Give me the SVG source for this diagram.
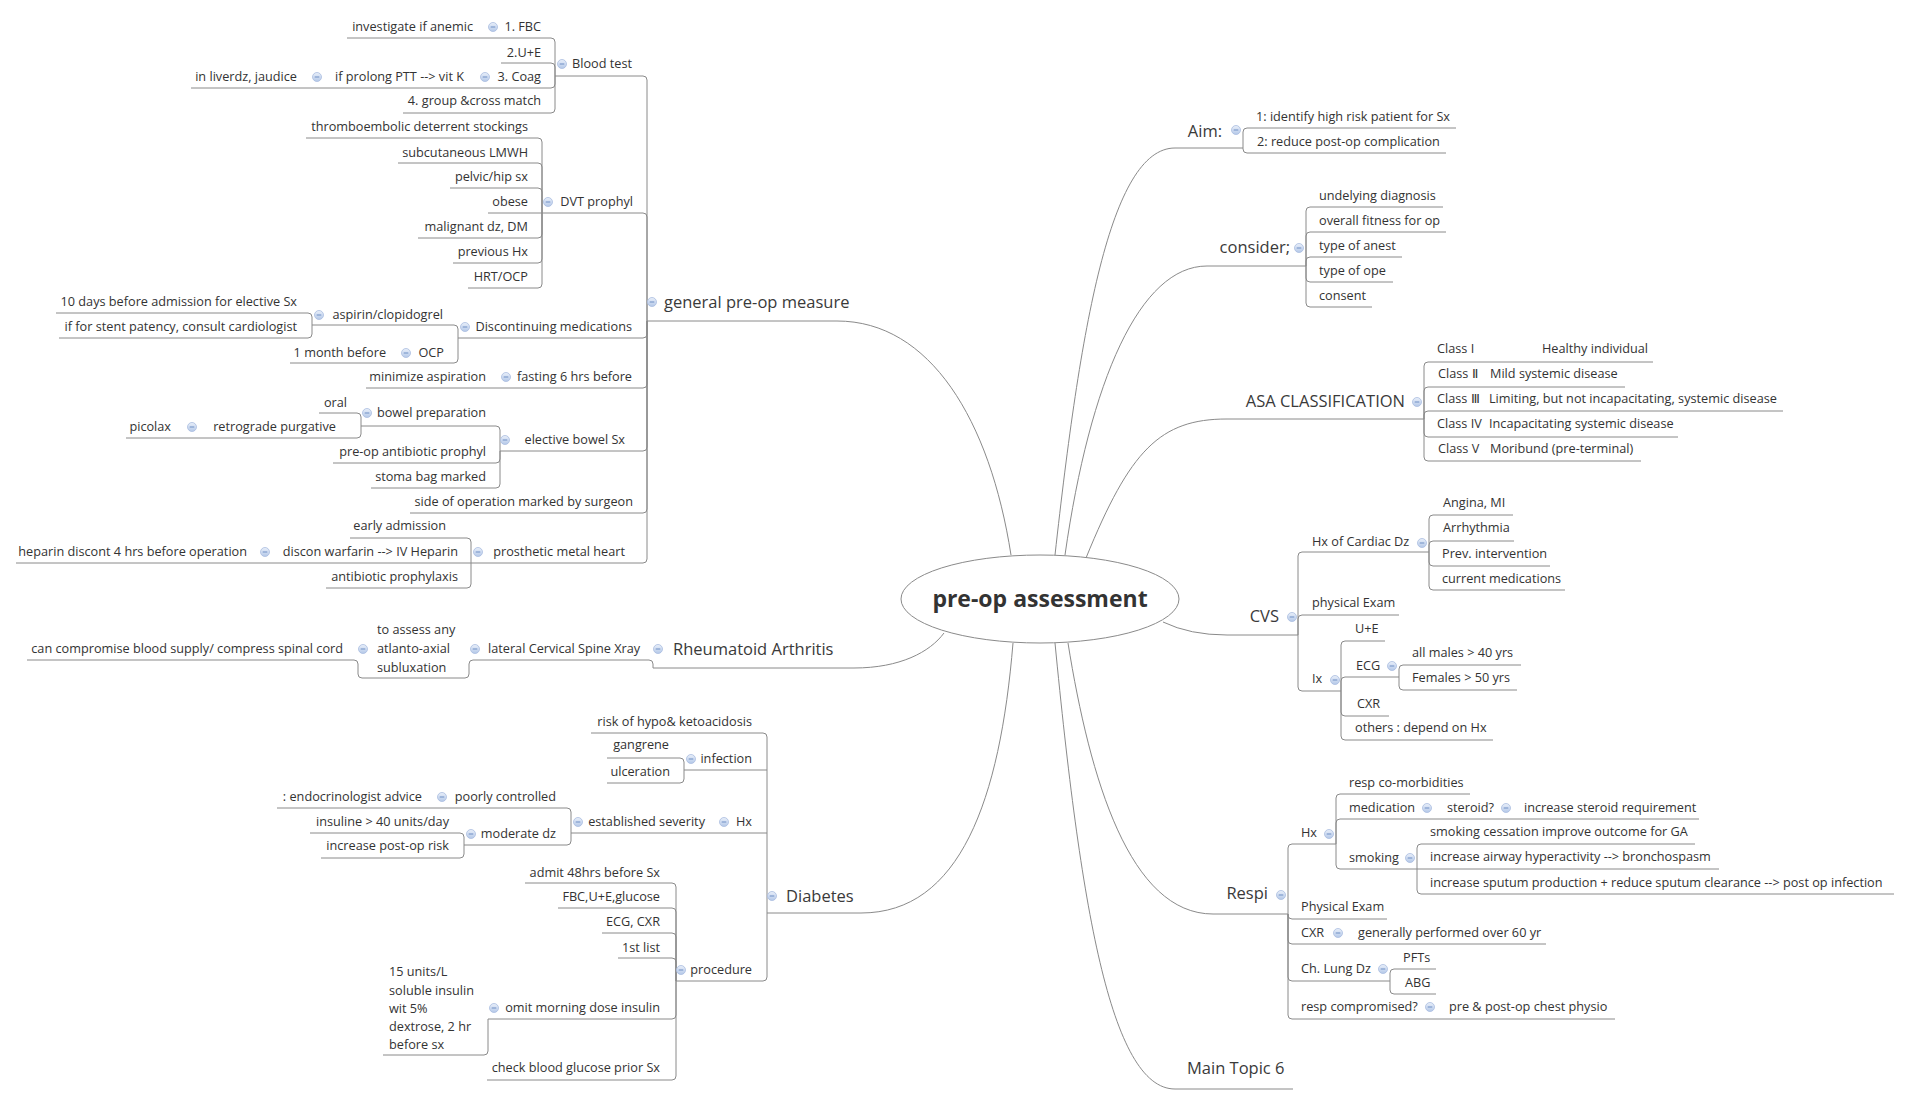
<svg xmlns="http://www.w3.org/2000/svg" xmlns:xlink="http://www.w3.org/1999/xlink" width="1910" height="1105" viewBox="0 0 1910 1105">
<style>
text{font-family:"Open Sans","Noto Sans","Liberation Sans",sans-serif;fill:#333}
.s{font-size:12.7px}
.e{text-anchor:end}
.m{font-size:16.5px;fill:#3a3a3a}
.c{font-size:23px;font-weight:bold;text-anchor:middle;fill:#333}
#conn path{fill:none;stroke:#8a8a8a;stroke-width:1}
</style>
<defs>
<linearGradient id="g" x1="0" y1="0" x2="0" y2="1"><stop offset="0" stop-color="#eaf0fa"/><stop offset="1" stop-color="#b4c8e8"/></linearGradient>
<g id="mi"><circle r="4.5" fill="url(#g)" stroke="#a9bde0" stroke-width="0.8"/><line x1="-2.3" y1="0" x2="2.3" y2="0" stroke="#6f8fc4" stroke-width="1"/></g>
</defs>
<rect width="1910" height="1105" fill="#fff"/>
<g id="conn">
<path d="M347,38 H551 Q555,38 555,42 V76"/>
<path d="M501,63 H551 Q555,63 555,67 V76"/>
<path d="M191,88 H551 Q555,88 555,84 V76"/>
<path d="M403,113 H551 Q555,113 555,109 V76"/>
<path d="M555,76 H643 Q647,76 647,80 V321"/>
<path d="M306,138 H538 Q542,138 542,142 V213"/>
<path d="M398,163 H538 Q542,163 542,167 V213"/>
<path d="M450,188 H538 Q542,188 542,192 V213"/>
<path d="M488,213 H542"/>
<path d="M418,238 H538 Q542,238 542,234 V213"/>
<path d="M453,263 H538 Q542,263 542,259 V213"/>
<path d="M468,288 H538 Q542,288 542,284 V213"/>
<path d="M542,213 H643 Q647,213 647,217 V321"/>
<path d="M56,313 H308 Q312,313 312,317 V325"/>
<path d="M59,338 H308 Q312,338 312,334 V325"/>
<path d="M312,325 H454 Q458,325 458,329 V338"/>
<path d="M290,363 H454 Q458,363 458,359 V338"/>
<path d="M458,338 H643 Q647,338 647,334 V321"/>
<path d="M366,388 H643 Q647,388 647,384 V321"/>
<path d="M319,413 H357 Q361,413 361,417 V426"/>
<path d="M126,438 H357 Q361,438 361,434 V426"/>
<path d="M361,426 H496 Q500,426 500,430 V451"/>
<path d="M333,463 H496 Q500,463 500,459 V451"/>
<path d="M371,488 H496 Q500,488 500,484 V451"/>
<path d="M500,451 H643 Q647,451 647,447 V321"/>
<path d="M410,513 H643 Q647,513 647,509 V321"/>
<path d="M350,538 H467 Q471,538 471,542 V563"/>
<path d="M16,563 H471"/>
<path d="M326,588 H467 Q471,588 471,584 V563"/>
<path d="M471,563 H643 Q647,563 647,559 V321"/>
<path d="M647,321 H837 C930,321 990,420 1011,555"/>
<path d="M27,660 H354 Q358,660 358,664 V674 Q358,678 362,678 H465 Q469,678 469,674 V664 Q469,660 473,660 H649 Q653,660 653,664 V668 H854 C900,668 930,652 944,633"/>
<path d="M607,758 H680 Q684,758 684,762 V770"/>
<path d="M607,783 H680 Q684,783 684,779 V770"/>
<path d="M591,733 H763 Q767,733 767,737 V913"/>
<path d="M684,770 H767"/>
<path d="M310,833 H460 Q464,833 464,837 V845"/>
<path d="M321,858 H460 Q464,858 464,854 V845"/>
<path d="M277,808 H567 Q571,808 571,812 V833"/>
<path d="M464,845 H567 Q571,845 571,841 V833"/>
<path d="M571,833 H767"/>
<path d="M525,883 H672 Q676,883 676,887 V981"/>
<path d="M558,908 H672 Q676,908 676,912 V981"/>
<path d="M602,933 H672 Q676,933 676,937 V981"/>
<path d="M618,958 H672 Q676,958 676,962 V981"/>
<path d="M488,1019 H672 Q676,1019 676,1015 V981"/>
<path d="M383,1055 H484 Q488,1055 488,1051 V1019"/>
<path d="M487,1080 H672 Q676,1080 676,1076 V981"/>
<path d="M676,981 H763 Q767,981 767,977 V913"/>
<path d="M767,913 H861 C960,913 1000,800 1013,643"/>
<path d="M1055,555 C1080,330 1110,148 1175,148 H1243"/>
<path d="M1456,128 H1247 Q1243,128 1243,132 V148"/>
<path d="M1446,153 H1247 Q1243,153 1243,149 V148"/>
<path d="M1065,555 C1090,380 1140,266 1207,266 H1306"/>
<path d="M1443,207 H1310 Q1306,207 1306,211 V266"/>
<path d="M1446,232 H1310 Q1306,232 1306,236 V266"/>
<path d="M1402,257 H1310 Q1306,257 1306,261 V266"/>
<path d="M1393,282 H1310 Q1306,282 1306,278 V266"/>
<path d="M1372,307 H1310 Q1306,307 1306,303 V266"/>
<path d="M1086,558 C1130,450 1160,419 1227,419 H1424"/>
<path d="M1653,362 H1428 Q1424,362 1424,366 V419"/>
<path d="M1625,387 H1428 Q1424,387 1424,391 V419"/>
<path d="M1783,411 H1428 Q1424,411 1424,415 V419"/>
<path d="M1678,437 H1428 Q1424,437 1424,433 V419"/>
<path d="M1641,461 H1428 Q1424,461 1424,457 V419"/>
<path d="M1163,622 Q1190,635 1227,635 H1298"/>
<path d="M1429,552 H1302 Q1298,552 1298,556 V635"/>
<path d="M1399,615 H1302 Q1298,615 1298,619 V635"/>
<path d="M1341,691 H1302 Q1298,691 1298,687 V635"/>
<path d="M1513,515 H1433 Q1429,515 1429,519 V552"/>
<path d="M1514,541 H1433 Q1429,541 1429,545 V552"/>
<path d="M1550,566 H1433 Q1429,566 1429,562 V552"/>
<path d="M1565,590 H1433 Q1429,590 1429,586 V552"/>
<path d="M1385,641 H1345 Q1341,641 1341,645 V691"/>
<path d="M1399,677 H1345 Q1341,677 1341,681 V691"/>
<path d="M1389,716 H1345 Q1341,716 1341,712 V691"/>
<path d="M1493,740 H1345 Q1341,740 1341,736 V691"/>
<path d="M1521,665 H1403 Q1399,665 1399,669 V677"/>
<path d="M1517,690 H1403 Q1399,690 1399,686 V677"/>
<path d="M1068,643 C1090,780 1130,914 1213,914 H1288"/>
<path d="M1336,844 H1292 Q1288,844 1288,848 V914"/>
<path d="M1387,919 H1292 Q1288,919 1288,915 V914"/>
<path d="M1546,944 H1292 Q1288,944 1288,940 V914"/>
<path d="M1390,981 H1292 Q1288,981 1288,977 V914"/>
<path d="M1615,1019 H1292 Q1288,1019 1288,1015 V914"/>
<path d="M1470,794 H1340 Q1336,794 1336,798 V844"/>
<path d="M1699,819 H1340 Q1336,819 1336,823 V844"/>
<path d="M1417,869 H1340 Q1336,869 1336,865 V844"/>
<path d="M1695,844 H1421 Q1417,844 1417,848 V869"/>
<path d="M1719,869 H1417"/>
<path d="M1894,894 H1421 Q1417,894 1417,890 V869"/>
<path d="M1436,969 H1394 Q1390,969 1390,973 V981"/>
<path d="M1436,994 H1394 Q1390,994 1390,990 V981"/>
<path d="M1055,643 C1080,900 1110,1089 1175,1089 H1293"/>
</g>

<g id="center"><ellipse cx="1040" cy="599" rx="139" ry="44" fill="#fff" stroke="#8a8a8a" stroke-width="1"/><text class="c" x="1040" y="607">pre-op assessment</text></g>

<g id="n-general"><use href="#mi" x="652" y="302"/><text class="m" x="664" y="308">general pre-op measure</text></g>
<g id="n-bloodtest"><use href="#mi" x="562" y="64"/><text class="s e" x="632" y="68">Blood test</text></g>
<g id="n-fbc"><use href="#mi" x="493" y="27"/><text class="s e" x="541" y="31">1. FBC</text></g>
<g id="n-anemic"><text class="s e" x="473" y="31">investigate if anemic</text></g>
<g id="n-ue"><text class="s e" x="541" y="57">2.U+E</text></g>
<g id="n-coag"><use href="#mi" x="485" y="77"/><text class="s e" x="541" y="81">3. Coag</text></g>
<g id="n-ptt"><use href="#mi" x="317" y="77"/><text class="s e" x="464" y="81">if prolong PTT --&gt; vit K</text></g>
<g id="n-liver"><text class="s e" x="297" y="81">in liverdz, jaudice</text></g>
<g id="n-group"><text class="s e" x="541" y="105">4. group &amp;cross match</text></g>
<g id="n-dvt"><use href="#mi" x="548" y="202"/><text class="s e" x="633" y="206">DVT prophyl</text></g>
<g id="n-teds"><text class="s e" x="528" y="131">thromboembolic deterrent stockings</text></g>
<g id="n-lmwh"><text class="s e" x="528" y="157">subcutaneous LMWH</text></g>
<g id="n-pelvic"><text class="s e" x="528" y="181">pelvic/hip sx</text></g>
<g id="n-obese"><text class="s e" x="528" y="206">obese</text></g>
<g id="n-malig"><text class="s e" x="528" y="231">malignant dz, DM</text></g>
<g id="n-prevhx"><text class="s e" x="528" y="256">previous Hx</text></g>
<g id="n-hrt"><text class="s e" x="528" y="281">HRT/OCP</text></g>
<g id="n-discont"><use href="#mi" x="465" y="327"/><text class="s e" x="632" y="331">Discontinuing medications</text></g>
<g id="n-aspirin"><use href="#mi" x="319" y="315"/><text class="s e" x="443" y="319">aspirin/clopidogrel</text></g>
<g id="n-10days"><text class="s e" x="297" y="306">10 days before admission for elective Sx</text></g>
<g id="n-stent"><text class="s e" x="297" y="331">if for stent patency, consult cardiologist</text></g>
<g id="n-ocp"><use href="#mi" x="406" y="353"/><text class="s e" x="444" y="357">OCP</text></g>
<g id="n-1month"><text class="s e" x="386" y="357">1 month before</text></g>
<g id="n-fasting"><use href="#mi" x="506" y="377"/><text class="s e" x="632" y="381">fasting 6 hrs before</text></g>
<g id="n-aspir"><text class="s e" x="486" y="381">minimize aspiration</text></g>
<g id="n-elective"><use href="#mi" x="505" y="440"/><text class="s e" x="625" y="444">elective bowel Sx</text></g>
<g id="n-bowelprep"><use href="#mi" x="367" y="413"/><text class="s e" x="486" y="417">bowel preparation</text></g>
<g id="n-oral"><text class="s e" x="347" y="407">oral</text></g>
<g id="n-retro"><use href="#mi" x="192" y="427"/><text class="s e" x="336" y="431">retrograde purgative</text></g>
<g id="n-picolax"><text class="s e" x="171" y="431">picolax</text></g>
<g id="n-abx"><text class="s e" x="486" y="456">pre-op antibiotic prophyl</text></g>
<g id="n-stoma"><text class="s e" x="486" y="481">stoma bag marked</text></g>
<g id="n-side"><text class="s e" x="633" y="506">side of operation marked by surgeon</text></g>
<g id="n-prosth"><use href="#mi" x="478" y="552"/><text class="s e" x="625" y="556">prosthetic metal heart</text></g>
<g id="n-early"><text class="s e" x="446" y="530">early admission</text></g>
<g id="n-warfarin"><use href="#mi" x="265" y="552"/><text class="s e" x="458" y="556">discon warfarin --&gt; IV Heparin</text></g>
<g id="n-heparin"><text class="s e" x="247" y="556">heparin discont 4 hrs before operation</text></g>
<g id="n-abxproph"><text class="s e" x="458" y="581">antibiotic prophylaxis</text></g>

<g id="n-ra"><use href="#mi" x="658" y="649"/><text class="m" x="673" y="655">Rheumatoid Arthritis</text></g>
<g id="n-cspine"><use href="#mi" x="475" y="649"/><text class="s" x="488" y="653">lateral Cervical Spine Xray</text></g>
<g id="n-atlanto"><use href="#mi" x="363" y="649"/><text class="s" x="377" y="634">to assess any</text><text class="s" x="377" y="653">atlanto-axial</text><text class="s" x="377" y="672">subluxation</text></g>
<g id="n-compromise"><text class="s e" x="343" y="653">can compromise blood supply/ compress spinal cord</text></g>

<g id="n-diabetes"><use href="#mi" x="772" y="896"/><text class="m" x="786" y="902">Diabetes</text></g>
<g id="n-dmhx"><use href="#mi" x="724" y="822"/><text class="s e" x="752" y="826">Hx</text></g>
<g id="n-hypo"><text class="s e" x="752" y="726">risk of hypo&amp; ketoacidosis</text></g>
<g id="n-infection"><use href="#mi" x="691" y="759"/><text class="s e" x="752" y="763">infection</text></g>
<g id="n-gangrene"><text class="s e" x="669" y="749">gangrene</text></g>
<g id="n-ulcer"><text class="s e" x="670" y="776">ulceration</text></g>
<g id="n-severity"><use href="#mi" x="578" y="822"/><text class="s e" x="705" y="826">established severity</text></g>
<g id="n-poorly"><use href="#mi" x="442" y="797"/><text class="s e" x="556" y="801">poorly controlled</text></g>
<g id="n-endo"><text class="s e" x="422" y="801">: endocrinologist advice</text></g>
<g id="n-moderate"><use href="#mi" x="471" y="834"/><text class="s e" x="556" y="838">moderate dz</text></g>
<g id="n-insuline"><text class="s e" x="449" y="826">insuline &gt; 40 units/day</text></g>
<g id="n-postop"><text class="s e" x="449" y="850">increase post-op risk</text></g>
<g id="n-procedure"><use href="#mi" x="681" y="970"/><text class="s e" x="752" y="974">procedure</text></g>
<g id="n-admit"><text class="s e" x="660" y="877">admit 48hrs before Sx</text></g>
<g id="n-fbcue"><text class="s e" x="660" y="901">FBC,U+E,glucose</text></g>
<g id="n-ecgcxr"><text class="s e" x="660" y="926">ECG, CXR</text></g>
<g id="n-1st"><text class="s e" x="660" y="952">1st list</text></g>
<g id="n-omit"><use href="#mi" x="494" y="1008"/><text class="s e" x="660" y="1012">omit morning dose insulin</text></g>
<g id="n-15units"><text class="s" x="389" y="976">15 units/L</text><text class="s" x="389" y="995">soluble insulin</text><text class="s" x="389" y="1013">wit 5%</text><text class="s" x="389" y="1031">dextrose, 2 hr</text><text class="s" x="389" y="1049">before sx</text></g>
<g id="n-check"><text class="s e" x="660" y="1072">check blood glucose prior Sx</text></g>

<g id="n-aim"><use href="#mi" x="1236" y="130"/><text class="m e" x="1222" y="137">Aim:</text></g>
<g id="n-aim1"><text class="s" x="1256" y="121">1: identify high risk patient for Sx</text></g>
<g id="n-aim2"><text class="s" x="1257" y="146">2: reduce post-op complication</text></g>
<g id="n-consider"><use href="#mi" x="1299" y="248"/><text class="m e" x="1290" y="253">consider;</text></g>
<g id="n-undel"><text class="s" x="1319" y="200">undelying diagnosis</text></g>
<g id="n-fitness"><text class="s" x="1319" y="225">overall fitness for op</text></g>
<g id="n-anest"><text class="s" x="1319" y="250">type of anest</text></g>
<g id="n-ope"><text class="s" x="1319" y="275">type of ope</text></g>
<g id="n-consent"><text class="s" x="1319" y="300">consent</text></g>

<g id="n-asa"><use href="#mi" x="1417" y="402"/><text class="m e" x="1405" y="407">ASA CLASSIFICATION</text></g>
<g id="n-c1"><text class="s" x="1437" y="353">Class I<tspan x="1542">Healthy individual</tspan></text></g>
<g id="n-c2"><text class="s" x="1438" y="378">Class Ⅱ<tspan x="1490">Mild systemic disease</tspan></text></g>
<g id="n-c3"><text class="s" x="1437" y="403">Class Ⅲ<tspan x="1489">Limiting, but not incapacitating, systemic disease</tspan></text></g>
<g id="n-c4"><text class="s" x="1437" y="428">Class IV<tspan x="1489">Incapacitating systemic disease</tspan></text></g>
<g id="n-c5"><text class="s" x="1438" y="453">Class V<tspan x="1490">Moribund (pre-terminal)</tspan></text></g>

<g id="n-cvs"><use href="#mi" x="1292" y="617"/><text class="m e" x="1279" y="622">CVS</text></g>
<g id="n-cardiac"><use href="#mi" x="1422" y="543"/><text class="s" x="1312" y="546">Hx of Cardiac Dz</text></g>
<g id="n-angina"><text class="s" x="1443" y="507">Angina, MI</text></g>
<g id="n-arrhy"><text class="s" x="1443" y="532">Arrhythmia</text></g>
<g id="n-prev"><text class="s" x="1442" y="558">Prev. intervention</text></g>
<g id="n-curmed"><text class="s" x="1442" y="583">current medications</text></g>
<g id="n-phys"><text class="s" x="1312" y="607">physical Exam</text></g>
<g id="n-ix"><use href="#mi" x="1335" y="680"/><text class="s" x="1312" y="683">Ix</text></g>
<g id="n-cvsue"><text class="s" x="1355" y="633">U+E</text></g>
<g id="n-ecg"><use href="#mi" x="1392" y="666"/><text class="s" x="1356" y="670">ECG</text></g>
<g id="n-males"><text class="s" x="1412" y="657">all males &gt; 40 yrs</text></g>
<g id="n-females"><text class="s" x="1412" y="682">Females &gt; 50 yrs</text></g>
<g id="n-cvscxr"><text class="s" x="1357" y="708">CXR</text></g>
<g id="n-others"><text class="s" x="1355" y="732">others : depend on Hx</text></g>

<g id="n-respi"><use href="#mi" x="1281" y="895"/><text class="m e" x="1268" y="899">Respi</text></g>
<g id="n-rhx"><use href="#mi" x="1329" y="834"/><text class="s" x="1301" y="837">Hx</text></g>
<g id="n-comorb"><text class="s" x="1349" y="787">resp co-morbidities</text></g>
<g id="n-medication"><use href="#mi" x="1427" y="808"/><text class="s" x="1349" y="812">medication</text></g>
<g id="n-steroid"><use href="#mi" x="1506" y="808"/><text class="s" x="1447" y="812">steroid?</text></g>
<g id="n-steroidreq"><text class="s" x="1524" y="812">increase steroid requirement</text></g>
<g id="n-smoking"><use href="#mi" x="1410" y="858"/><text class="s" x="1349" y="862">smoking</text></g>
<g id="n-cessation"><text class="s" x="1430" y="836">smoking cessation improve outcome for GA</text></g>
<g id="n-airway"><text class="s" x="1430" y="861">increase airway hyperactivity --&gt; bronchospasm</text></g>
<g id="n-sputum"><text class="s" x="1430" y="887">increase sputum production + reduce sputum clearance --&gt; post op infection</text></g>
<g id="n-rphys"><text class="s" x="1301" y="911">Physical Exam</text></g>
<g id="n-rcxr"><use href="#mi" x="1338" y="933"/><text class="s" x="1301" y="937">CXR</text></g>
<g id="n-over60"><text class="s" x="1358" y="937">generally performed over 60 yr</text></g>
<g id="n-chlung"><use href="#mi" x="1383" y="969"/><text class="s" x="1301" y="973">Ch. Lung Dz</text></g>
<g id="n-pfts"><text class="s" x="1403" y="962">PFTs</text></g>
<g id="n-abg"><text class="s" x="1405" y="987">ABG</text></g>
<g id="n-respcomp"><use href="#mi" x="1430" y="1007"/><text class="s" x="1301" y="1011">resp compromised?</text></g>
<g id="n-physio"><text class="s" x="1449" y="1011">pre &amp; post-op chest physio</text></g>

<g id="n-main6"><text class="m" x="1187" y="1074">Main Topic 6</text></g>
</svg>
